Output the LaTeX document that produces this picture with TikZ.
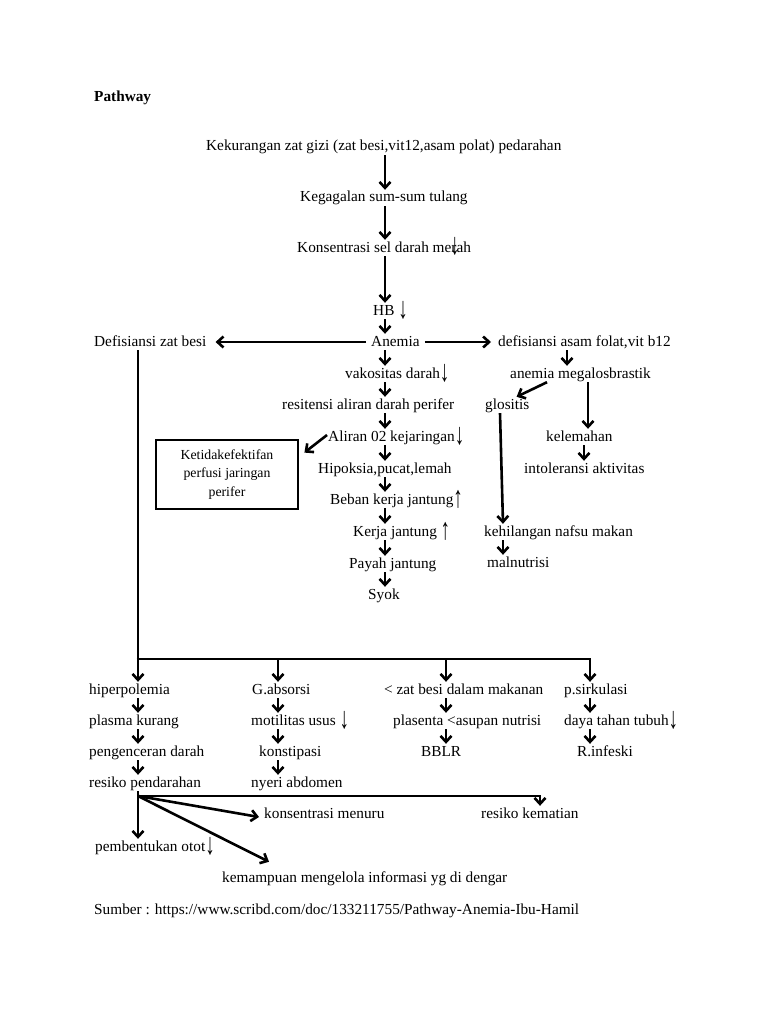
\documentclass[tikz,border=0pt]{standalone}
\usepackage{fontspec}
\usepackage{graphicx}
\setmainfont{Liberation Serif}
\usetikzlibrary{arrows.meta}
\newcommand\myDn{\raisebox{-3pt}{\scalebox{0.9}[1.45]{\fontsize{21}{21}\selectfont ↓}}}
\newcommand\myUp{\raisebox{-3pt}{\scalebox{0.9}[1.45]{\fontsize{21}{21}\selectfont ↑}}}
\begin{document}
\begin{tikzpicture}[x=1pt,y=-1pt,
  t/.style={inner sep=1pt, text height=11pt, text depth=3pt, anchor=base west, font=\fontsize{15.3}{18}\selectfont},
  arr/.style={line width=2.6pt, -{Straight Barb[length=6pt,width=11pt]}},
  ln/.style={line width=2.6pt}]
\fill[white] (0,0) rectangle (768,1024);
\useasboundingbox (0,0) rectangle (768,1024);
% column coordinates
\coordinate (cx) at (385,0);
\coordinate (c1) at (138,0);
\coordinate (c2) at (278,0);
\coordinate (c3) at (446,0);
\coordinate (c4) at (590,0);
\coordinate (c5) at (540,0);
\coordinate (cr1) at (567,0);
\coordinate (cr2) at (588,0);
\coordinate (cr3) at (584,0);
\coordinate (cr4) at (503,0);

\node[t, font=\bfseries\fontsize{15.3}{18}\selectfont] (path) at (93,102) {Pathway};
\node[t] (kek) at (205,151) {Kekurangan zat gizi (zat besi,vit12,asam polat) pedarahan};
\node[t] (keg) at (299,202) {Kegagalan sum-sum tulang};
\node[t] (kon) at (296,252) {Konsentrasi sel darah merah};
\node[t] (konarr) at (449,251) {\myDn};
\node[t] (hb) at (372,315) {HB \myDn};
\node[t] (ane) at (370,346) {Anemia};
\node[t] (def) at (93,346) {Defisiansi zat besi};
\node[t] (dfa) at (497,346) {defisiansi asam folat,vit b12};
\node[t] (vak) at (344,378) {vakositas darah\myDn};
\node[t] (res) at (281,409) {resitensi aliran darah perifer};
\node[t] (ali) at (327,441) {Aliran 02 kejaringan\myDn};
\node[t] (hip) at (317,473) {Hipoksia,pucat,lemah};
\node[t] (beb) at (329,504) {Beban kerja jantung\myUp};
\node[t] (ker) at (352,536) {Kerja jantung \myUp};
\node[t] (pay) at (348,568) {Payah jantung};
\node[t] (syo) at (367,599) {Syok};

\node[t] (ame) at (509,378) {anemia megalosbrastik};
\node[t] (glo) at (484,409) {glositis};
\node[t] (kel) at (545,441) {kelemahan};
\node[t] (int) at (523,473) {intoleransi aktivitas};
\node[t] (keh) at (483,536) {kehilangan nafsu makan};
\node[t] (mal) at (486,567) {malnutrisi};

\node[draw, line width=2.8pt, minimum width=142pt, minimum height=69pt, align=center,
  inner sep=2pt, font=\fontsize{13.8}{18.5}\selectfont] (box) at (227,474.5)
  {Ketidakefektifan\\perfusi jaringan\\perifer};

\node[t] (hpl) at (88,694) {hiperpolemia};
\node[t] (gab) at (251,694) {G.absorsi};
\node[t] (zat) at (383,694) {< zat besi dalam makanan};
\node[t] (psi) at (563,694) {p.sirkulasi};
\node[t] (pla) at (88,725) {plasma kurang};
\node[t] (mot) at (250,725) {motilitas usus \myDn};
\node[t] (plc) at (392,725) {plasenta <asupan nutrisi};
\node[t] (day) at (563,725) {daya tahan tubuh\myDn};
\node[t] (pen) at (88,756) {pengenceran darah};
\node[t] (kns) at (258,756) {konstipasi};
\node[t] (bbl) at (420,756) {BBLR};
\node[t] (rin) at (576,756) {R.infeski};
\node[t] (rpd) at (88,787) {resiko pendarahan};
\node[t] (nye) at (250,787) {nyeri abdomen};
\node[t] (kmn) at (263,818) {konsentrasi menuru};
\node[t] (rkm) at (480,818) {resiko kematian};
\node[t] (pmb) at (94,851) {pembentukan otot\myDn};
\node[t] (kmp) at (221,882) {kemampuan mengelola informasi yg di dengar};
\node[t] (smb) at (93,914) {Sumber : https://www.scribd.com/doc/133211755/Pathway-Anemia-Ibu-Hamil};

% main column
\draw[arr] (kek.south -| cx) -- (keg.north -| cx);
\draw[arr] (keg.south -| cx) -- (kon.north -| cx);
\draw[arr] (kon.south -| cx) -- (hb.north -| cx);
\draw[arr] (hb.south -| cx) -- (ane.north -| cx);
\draw[arr, shorten <=4pt, shorten >=8pt] (ane.west) -- (def.east);
\draw[arr, shorten <=4pt, shorten >=6pt] (ane.east) -- (dfa.west);
\draw[arr] (ane.south -| cx) -- (vak.north -| cx);
\draw[arr] (vak.south -| cx) -- (res.north -| cx);
\draw[arr] (res.south -| cx) -- (ali.north -| cx);
\draw[arr] ([yshift=2pt]ali.west) -- ([yshift=-14pt,xshift=5pt]box.north east);
\draw[arr] (ali.south -| cx) -- (hip.north -| cx);
\draw[arr] (hip.south -| cx) -- (beb.north -| cx);
\draw[arr] (beb.south -| cx) -- (ker.north -| cx);
\draw[arr] (ker.south -| cx) -- (pay.north -| cx);
\draw[arr] (pay.south -| cx) -- (syo.north -| cx);
% right column
\draw[arr] (dfa.south -| cr1) -- (ame.north -| cr1);
\draw[arr] ([xshift=38pt]ame.south west) -- ([xshift=-14pt]glo.north east);
\draw[arr] ([xshift=16pt]glo.south west) -- ([xshift=20pt]keh.north west);
\draw[arr] (keh.south -| cr4) -- (mal.north -| cr4);
\draw[arr] (ame.south -| cr2) -- (kel.north -| cr2);
\draw[arr] (kel.south -| cr3) -- (int.north -| cr3);
% bottom tree
\coordinate (bl) at (138,659);
\coordinate (br) at (590,659);
\draw[ln] (def.south -| bl) -- (bl);
\draw[ln] ([xshift=-1.3pt]bl) -- ([xshift=1.3pt]br);
\draw[arr] (bl) -- (hpl.north -| bl);
\draw[arr] (bl -| c2) -- (gab.north -| c2);
\draw[arr] (bl -| c3) -- (zat.north -| c3);
\draw[arr] (br) -- (psi.north -| br);
\draw[arr] (hpl.south -| c1) -- (pla.north -| c1);
\draw[arr] (pla.south -| c1) -- (pen.north -| c1);
\draw[arr] (pen.south -| c1) -- (rpd.north -| c1);
\draw[arr] (gab.south -| c2) -- (mot.north -| c2);
\draw[arr] (mot.south -| c2) -- (kns.north -| c2);
\draw[arr] (kns.south -| c2) -- (nye.north -| c2);
\draw[arr] (zat.south -| c3) -- (plc.north -| c3);
\draw[arr] (plc.south -| c3) -- (bbl.north -| c3);
\draw[arr] (psi.south -| c4) -- (day.north -| c4);
\draw[arr] (day.south -| c4) -- (rin.north -| c4);
% fan from resiko pendarahan
\coordinate (fo) at (138,796);
\draw[ln] (rpd.south -| fo) -- (fo);
\draw[arr] (fo) -- (fo -| c5) -- (rkm.north -| c5);
\draw[arr] (fo) -- ([xshift=-4pt,yshift=-3pt]kmn.west);
\draw[arr] (fo) -- (pmb.north -| fo);
\draw[arr] (fo) -- ([xshift=48pt,yshift=8pt]kmp.north west);
\end{tikzpicture}
\end{document}
